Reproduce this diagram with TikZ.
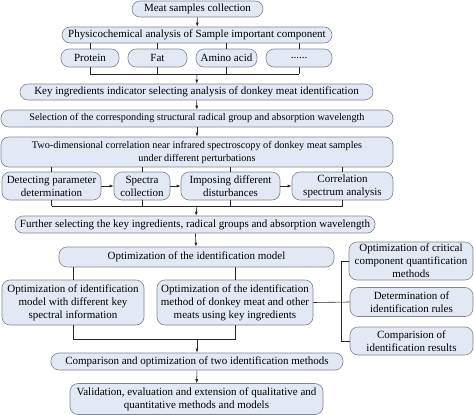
\documentclass[tikz,border=0pt]{standalone}
\usepackage{fontspec}
\setmainfont{Liberation Serif}
\usetikzlibrary{arrows.meta}
\definecolor{boxfill}{HTML}{E3E9F4}
\definecolor{boxline}{HTML}{80848C}

\begin{document}
\begin{tikzpicture}[x=1pt,y=-1pt,
    box/.style={draw=boxline, fill=boxfill, line width=0.6pt, rounded corners=8pt, align=center, inner sep=0pt, font=\fontsize{11}{13}\selectfont},
    widebox/.style={box, font=\fontsize{10.2}{13}\selectfont},
    link/.style={draw=black!85, line width=0.6pt},
    arr/.style={link, -{Latex[length=4pt,width=3pt]}}]

    \useasboundingbox (0,0) rectangle (474,415);

    \node (msc) [box, minimum width=131pt, minimum height=16pt] at (197.5,9) {Meat samples collection};
    \node (phys) [box, minimum width=270pt, minimum height=16pt] at (197,35) {Physicochemical analysis of Sample important component};
    \node (protein) [box, minimum width=58pt, minimum height=18pt] at (90,58) {Protein};
    \node (fat) [box, minimum width=59pt, minimum height=18pt] at (157.5,58) {Fat};
    \node (amino) [box, minimum width=61pt, minimum height=18pt] at (226.5,58) {Amino acid};
    \node (dots) [box, minimum width=66pt, minimum height=18pt] at (299,58) {......};
    \node (key) [box, minimum width=353pt, minimum height=16pt] at (196.5,92) {Key ingredients indicator selecting analysis of donkey meat identification};
    \node (sel) [widebox, minimum width=392pt, minimum height=17pt] at (197,118.5) {Selection of the corresponding structural radical group and absorption wavelength};
    \node (twod) [widebox, minimum width=392pt, minimum height=30pt] at (197,152) {Two-dimensional correlation near infrared spectroscopy of donkey meat samples\\under different perturbations};
    \node (det) [box, minimum width=99pt, minimum height=28pt] at (51.5,186) {Detecting parameter\\determination};
    \node (spec) [box, minimum width=56pt, minimum height=28pt] at (142,186) {Spectra\\collection};
    \node (imp) [box, minimum width=99pt, minimum height=28pt] at (230.5,186) {Imposing different\\disturbances};
    \node (corr) [box, minimum width=101pt, minimum height=28pt] at (342.5,186) {Correlation\\spectrum analysis};
    \node (fur) [box, minimum width=360pt, minimum height=17pt] at (195,224.5) {Further selecting the key ingredients, radical groups and absorption wavelength};
    \node (opt) [box, minimum width=275pt, minimum height=20pt] at (196.5,257) {Optimization of the identification model};
    \node (lft) [box, minimum width=142pt, minimum height=45pt] at (73,302.5) {Optimization of identification\\model with different key\\spectral information};
    \node (mid) [box, minimum width=156pt, minimum height=45pt] at (235,302.5) {Optimization of the identification\\method of donkey meat and other\\meats using key ingredients};
    \node (rone) [box, minimum width=124pt, minimum height=38pt] at (411,261) {Optimization of critical\\component quantification\\methods};
    \node (rtwo) [box, minimum width=123pt, minimum height=29pt] at (411.5,302) {Determination of\\identification rules};
    \node (rthree) [box, minimum width=123pt, minimum height=28pt] at (411.5,341) {Comparision of\\identification results};
    \node (cmp) [box, minimum width=292pt, minimum height=17pt] at (197,361.5) {Comparison and optimization of two identification methods};
    \node (val) [box, minimum width=253pt, minimum height=31pt] at (196.5,399) {Validation, evaluation and extension of qualitative and\\quantitative methods and models};

    \coordinate (busa) at (197,74);
    \coordinate (busb) at (197,206);
    \coordinate (busc) at (197,339);
    \coordinate (trunk) at (341,300);

    \draw[arr] (msc) -- (phys);
    \foreach \n in {protein,fat,amino,dots}
    \draw[link] (phys.south -| \n.north) -- (\n.north);
    \foreach \n in {protein,fat,amino,dots}
    \draw[link] (\n.south) -- (\n.south |- busa);
    \draw[link] (protein.south |- busa) -- (dots.south |- busa);
    \draw[arr] (busa) -- (key);
    \draw[arr] (key) -- (sel);
    \draw[arr] (sel) -- (twod);

    \foreach \n in {det,spec,imp,corr}
    \draw[link] (twod.south -| \n.north) -- (\n.north);
    \draw[arr] (det) -- (spec);
    \draw[arr] (spec) -- (imp);
    \draw[arr] (imp) -- (corr);
    \foreach \n in {det,spec,imp,corr}
    \draw[link] (\n.south) -- (\n.south |- busb);
    \draw[link] (det.south |- busb) -- (corr.south |- busb);
    \draw[arr] (busb) -- (fur);
    \draw[arr] (fur) -- (opt);

    \draw[link] (opt.south -| lft.north) -- (lft.north);
    \draw[link] (opt.south -| mid.north) -- (mid.north);
    \draw[link] (mid.east) -- (rtwo.west);
    \draw[link] (rone.west) -- (rone.west -| trunk) -- (rthree.west -| trunk) -- (rthree.west);
    \draw[link] (lft.south) -- (lft.south |- busc) -- (mid.south |- busc) -- (mid.south);
    \draw[arr] (busc) -- (cmp);
    \draw[arr] (cmp) -- (val);

\end{tikzpicture}
\end{document}
